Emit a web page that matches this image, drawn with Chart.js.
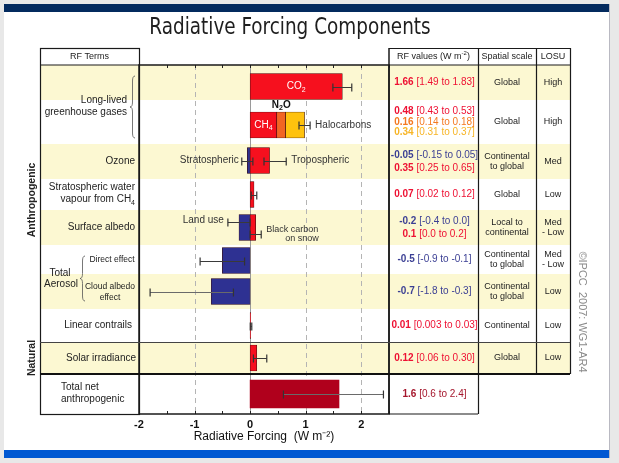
<!DOCTYPE html>
<html>
<head>
<meta charset="utf-8">
<script src="https://cdn.jsdelivr.net/npm/chart.js@4.4.1/dist/chart.umd.min.js"></script>
<style>
  html, body { margin: 0; padding: 0; background: #e8e8e8; }
  canvas { display: block; }
</style>
</head>
<body>
<canvas id="rf" width="619" height="463"></canvas>
<script>
// ---------- data ----------
const items   = ["CO2", "CH4", "N2O", "Halocarbons", "Stratospheric ozone", "Tropospheric ozone",
                 "Stratospheric water vapour", "Land use", "Black carbon on snow", "Direct effect",
                 "Cloud albedo effect", "Linear contrails", "Solar irradiance", "Total net anthropogenic"];
const itemRow = [0, 1, 1, 1, 2, 2, 3, 4, 4, 5, 6, 7, 8, 9];
const rfValue = [1.66, 0.48, 0.16, 0.34, -0.05, 0.35, 0.07, -0.2, 0.1, -0.5, -0.7, 0.01, 0.12, 1.6];
// whiskers as drawn on the bars (null = none)
const barLow  = [1.49, null, null, 0.88, -0.15, 0.25, 0.02, -0.4, 0.0, -0.9, -1.8, 0.003, 0.06, 0.6];
const barHigh = [1.83, null, null, 1.08, 0.05, 0.65, 0.12, 0.0, 0.2, -0.1, -0.3, 0.03, 0.30, 2.4];
// ranges printed in the table
const tblLow  = [1.49, 0.43, 0.14, 0.31, -0.15, 0.25, 0.02, -0.4, 0.0, -0.9, -1.8, 0.003, 0.06, 0.6];
const tblHigh = [1.83, 0.53, 0.18, 0.37, 0.05, 0.65, 0.12, 0.0, 0.2, -0.1, -0.3, 0.03, 0.30, 2.4];
const spatial = [["Global"], ["Global"], ["Continental", "to global"], ["Global"], ["Local to", "continental"],
                 ["Continental", "to global"], ["Continental", "to global"], ["Continental"], ["Global"], []];
const losu    = [["High"], ["High"], ["Med"], ["Low"], ["Med", "- Low"], ["Med", "- Low"], ["Low"], ["Low"], ["Low"], []];
const xTicks  = [-2, -1, 0, 1, 2];

// ---------- layout / style ----------
const rowH     = [35, 44, 35, 31, 35, 29, 35, 33, 32, 40];
const rowShift = [4, 3, -1, 0, 0, 1, 0, 0, 0, 0];
const errShift = [0, 0, 0, 0, 0, 0, 0, -6, 6, 0, 0, 0, 0, 0];
const COL = { red: "#f6101e", orange: "#f26522", gold: "#ffc20e", blue: "#2e3192", dark: "#b0001c" };
const TXT = { red: "#ee1133", orange: "#f47920", gold: "#f7b526", blue: "#3b3f94", dark: "#a5162c" };
const itemCol = ["red", "red", "orange", "gold", "blue", "red", "red", "blue", "red", "blue", "blue", "red", "red", "dark"];
const SANS = '"Liberation Sans", Arial, Helvetica, sans-serif';
const NARROW = '"Liberation Sans Narrow", "DejaVu Sans Condensed", "Liberation Sans", sans-serif';

const rowTop = [];
let acc = 0;
rowH.forEach(h => { rowTop.push(acc); acc += h; });
const totalH = acc;
const rowMid = r => rowTop[r] + rowH[r] / 2;
const barY = itemRow.map(r => rowMid(r) + rowShift[r]);

// stack positive and negative pieces of a row from zero
const barStart = [], barEnd = [];
const posAcc = {}, negAcc = {};
rfValue.forEach((v, i) => {
  const r = itemRow[i];
  const base = v >= 0 ? (posAcc[r] || 0) : (negAcc[r] || 0);
  barStart.push(base);
  barEnd.push(base + v);
  if (v >= 0) posAcc[r] = base + v; else negAcc[r] = base + v;
});

const last = items.length - 1;
const mainIdx = items.map((_, i) => i).filter(i => i !== last);

// ---------- text helpers ----------
function txt(ctx, s, x, y, font, color, align) {
  ctx.font = font;
  ctx.fillStyle = color;
  ctx.textAlign = align || "center";
  ctx.textBaseline = "middle";
  ctx.fillText(s, x, y);
}

// parts: [text, kind] with kind 0 normal, 1 subscript, -1 superscript
function rich(ctx, parts, x, y, size, weight, color, align) {
  const fN = `${weight} ${size}px ${SANS}`;
  const fS = `${weight} ${Math.round(size * 0.65)}px ${SANS}`;
  let w = 0;
  parts.forEach(p => { ctx.font = p[1] ? fS : fN; w += ctx.measureText(p[0]).width; });
  let cx = align === "left" ? x : align === "right" ? x - w : x - w / 2;
  ctx.fillStyle = color;
  ctx.textAlign = "left";
  ctx.textBaseline = "middle";
  parts.forEach(p => {
    ctx.font = p[1] ? fS : fN;
    const dy = p[1] === 1 ? size * 0.32 : p[1] === -1 ? -size * 0.38 : 0;
    ctx.fillText(p[0], cx, y + dy);
    cx += ctx.measureText(p[0]).width;
  });
}

const dec = n => (String(n).split(".")[1] || "").length;
const fmt = (n, i) => n.toFixed(Math.max(dec(n), dec(rfValue[i])));

function valueText(ctx, i, cx, y) {
  const a = String(rfValue[i]);
  const b = ` [${fmt(tblLow[i], i)} to ${fmt(tblHigh[i], i)}]`;
  const fB = `bold 10px ${SANS}`, fR = `10px ${SANS}`;
  ctx.font = fB; const wa = ctx.measureText(a).width;
  ctx.font = fR; const wb = ctx.measureText(b).width;
  const x0 = cx - (wa + wb) / 2;
  txt(ctx, a, x0, y, fB, TXT[itemCol[i]], "left");
  txt(ctx, b, x0 + wa, y, fR, TXT[itemCol[i]], "left");
}

function brace(ctx, x, y1, y2, w) {
  const m = (y1 + y2) / 2, h = w / 2;
  ctx.beginPath();
  ctx.moveTo(x + w, y1);
  ctx.quadraticCurveTo(x + h, y1, x + h, y1 + w);
  ctx.lineTo(x + h, m - w);
  ctx.quadraticCurveTo(x + h, m, x, m);
  ctx.quadraticCurveTo(x + h, m, x + h, m + w);
  ctx.lineTo(x + h, y2 - w);
  ctx.quadraticCurveTo(x + h, y2, x + w, y2);
  ctx.stroke();
}

function hline(ctx, x1, x2, y, w, c) {
  ctx.beginPath(); ctx.lineWidth = w; ctx.strokeStyle = c;
  ctx.moveTo(x1, y); ctx.lineTo(x2, y); ctx.stroke();
}
function vline(ctx, x, y1, y2, w, c) {
  ctx.beginPath(); ctx.lineWidth = w; ctx.strokeStyle = c;
  ctx.moveTo(x, y1); ctx.lineTo(x, y2); ctx.stroke();
}

// ---------- plugin: frame, bands, table, labels ----------
const figure = {
  id: "figure",
  beforeDraw(chart) {
    const c = chart.ctx, ys = chart.scales.y;
    c.save();
    c.fillStyle = "#e8e8e8"; c.fillRect(0, 0, 619, 463);
    c.fillStyle = "#ffffff"; c.fillRect(4, 4, 605, 454);
    vline(c, 609.5, 4, 458, 1, "#b9b9c2");
    c.fillStyle = "#032a5e"; c.fillRect(4, 4, 605, 8);
    c.fillStyle = "#0058d2"; c.fillRect(4, 450, 605, 8);
    // pale yellow bands
    c.fillStyle = "#fcf8d2";
    [0, 2, 4, 6, 8].forEach(r => {
      const y1 = ys.getPixelForValue(rowTop[r]), y2 = ys.getPixelForValue(rowTop[r] + rowH[r]);
      c.fillRect(40, y1, 530, y2 - y1);
    });
    c.restore();
  },
  beforeDatasetsDraw(chart) {
    const c = chart.ctx, xs = chart.scales.x, a = chart.chartArea;
    c.save();
    [-1, 1, 2].forEach(v => {
      c.setLineDash([5, 4]);
      vline(c, Math.round(xs.getPixelForValue(v)) + 0.5, a.top, a.bottom, 1, "#b4b4b4");
    });
    c.setLineDash([]);
    vline(c, Math.round(xs.getPixelForValue(0)) + 0.5, a.top, a.bottom, 1, "#9a9a9a");
    c.restore();
  },
  afterDatasetsDraw(chart) {
    const c = chart.ctx, xs = chart.scales.x, ys = chart.scales.y, a = chart.chartArea;
    const X = v => xs.getPixelForValue(v), Y = v => ys.getPixelForValue(v);
    c.save();

    // whiskers
    items.forEach((_, i) => {
      if (barLow[i] === null) return;
      const y = Math.round(Y(barY[i] + errShift[i])) + 0.5;
      const col = (i === last || i === 10) ? "#6a6a6a" : "#3a3a3a";
      hline(c, X(barLow[i]), X(barHigh[i]), y, 1, col);
      vline(c, X(barLow[i]), y - 4, y + 4, 1.2, "#333");
      vline(c, X(barHigh[i]), y - 4, y + 4, 1.2, "#333");
    });

    // labels on / next to the bars
    rich(c, [["CO", 0], ["2", 1]], X((barStart[0] + barEnd[0]) / 2), Y(barY[0]), 10, "normal", "#fff");
    rich(c, [["CH", 0], ["4", 1]], X((barStart[1] + barEnd[1]) / 2), Y(barY[1]), 10, "normal", "#fff");
    rich(c, [["N", 0], ["2", 1], ["O", 0]], X((barStart[2] + barEnd[2]) / 2), Y(barY[2]) - 20, 10, "bold", "#111");
    txt(c, "Halocarbons", X(barHigh[3]) + 5, Y(barY[3]), `10px ${SANS}`, "#333", "left");
    txt(c, "Stratospheric", X(barLow[4]) - 3, Y(barY[4]), `10px ${SANS}`, "#333", "right");
    txt(c, "Tropospheric", X(barHigh[5]) + 5, Y(barY[5]), `10px ${SANS}`, "#333", "left");
    txt(c, "Land use", X(barLow[7]) - 4, Y(barY[7] + errShift[7]) - 1, `10px ${SANS}`, "#333", "right");
    txt(c, "Black carbon", X(barHigh[8]) + 5, Y(barY[8] + errShift[8]) - 4, `9px ${SANS}`, "#333", "left");
    txt(c, "on snow", X(barHigh[8]) + 24, Y(barY[8] + errShift[8]) + 5, `9px ${SANS}`, "#333", "left");

    // ticks every 0.5 inside the frame
    for (let v = -1.5; v <= 2.5; v += 0.5) {
      const x = Math.round(X(v)) + 0.5;
      vline(c, x, a.top, a.top + 3, 1, "#222");
      vline(c, x, a.bottom - 3, a.bottom, 1, "#222");
    }

    // title (slightly condensed)
    c.save(); c.translate(290, 28); c.scale(0.89, 1);
    txt(c, "Radiative Forcing Components", 0, 0, `23px ${NARROW}`, "#1e1e1e", "center");
    c.restore();

    // table frame
    const yH = 48, y0 = a.top, yNat = Y(rowTop[8]), yTot = Y(rowTop[9]), yEnd = a.bottom;
    const xT1 = 40, xT2 = a.left, xR = a.right, xS = 478, xL = 536, xE = 570;
    c.strokeStyle = "#1a1a1a";
    c.lineWidth = 1.2;
    c.strokeRect(xT1 + 0.5, yH + 0.5, xT2 - xT1, yEnd - yH);
    hline(c, xT1, xT2, y0, 1.2, "#1a1a1a");
    c.lineWidth = 1.5;
    c.strokeRect(xT2, y0, xR - xT2, yEnd - y0);
    hline(c, xR, xE, yH + 0.5, 1.2, "#1a1a1a");
    hline(c, xR, xE, y0, 1.2, "#1a1a1a");
    vline(c, xR, yH, yEnd, 1.5, "#1a1a1a");
    vline(c, xS + 0.5, yH, yEnd, 1.2, "#1a1a1a");
    vline(c, xL + 0.5, yH, yTot, 1.2, "#1a1a1a");
    vline(c, xE + 0.5, yH, yTot, 1.2, "#1a1a1a");
    hline(c, xR, xS, yEnd, 1.2, "#1a1a1a");
    hline(c, xT1, xE, Math.round(yNat) + 0.5, 1, "#444");
    hline(c, xT1, xE, yTot, 2.2, "#111");

    // headers
    txt(c, "RF Terms", (xT1 + xT2) / 2, 57, `9px ${SANS}`, "#222");
    rich(c, [["RF values (W m", 0], ["-2", -1], [")", 0]], (xR + xS) / 2, 57, 9, "normal", "#222");
    txt(c, "Spatial scale", (xS + xL) / 2, 57, `9px ${SANS}`, "#222");
    txt(c, "LOSU", (xL + xE) / 2, 57, `9px ${SANS}`, "#222");

    // left column terms
    const F = `10px ${SANS}`, Fs = `8.5px ${SANS}`, dk = "#222";
    const m = r => Y(rowMid(r));
    txt(c, "Long-lived", 127, 100, F, dk, "right");
    txt(c, "greenhouse gases", 127, 112, F, dk, "right");
    c.lineWidth = 0.8; c.strokeStyle = "#555";
    brace(c, 130, Y(rowTop[0]) + 11, Y(rowTop[2]) - 6, 5);
    txt(c, "Ozone", 135, m(2), F, dk, "right");
    txt(c, "Stratospheric water", 135, m(3) - 7, F, dk, "right");
    rich(c, [["vapour from CH", 0], ["4", 1]], 135, m(3) + 5, 10, "normal", dk, "right");
    txt(c, "Surface albedo", 135, m(4), F, dk, "right");
    txt(c, "Total", 60, 273, F, dk);
    txt(c, "Aerosol", 61, 284, F, dk);
    c.lineWidth = 0.8; c.strokeStyle = "#555";
    brace(c, 80, Y(rowTop[5]) + 11, Y(rowTop[7]) - 8, 5);
    txt(c, "Direct effect", 112, m(5), Fs, dk);
    txt(c, "Cloud albedo", 110, m(6) - 5, Fs, dk);
    txt(c, "effect", 110, m(6) + 6, Fs, dk);
    txt(c, "Linear contrails", 132, m(7), F, dk, "right");
    txt(c, "Solar irradiance", 136, m(8), F, dk, "right");
    txt(c, "Total net", 61, m(9) - 7, F, dk, "left");
    txt(c, "anthropogenic", 61, m(9) + 5, F, dk, "left");

    // rotated group labels
    c.save(); c.translate(32, 200); c.rotate(-Math.PI / 2);
    txt(c, "Anthropogenic", 0, 0, `bold 10.5px ${SANS}`, "#222"); c.restore();
    c.save(); c.translate(32, m(8)); c.rotate(-Math.PI / 2);
    txt(c, "Natural", 0, 0, `bold 10.5px ${SANS}`, "#222"); c.restore();
    c.save(); c.translate(582, 312); c.rotate(Math.PI / 2);
    txt(c, "\u00A9IPCC  2007: WG1-AR4", 0, 0, `11px ${SANS}`, "#8a8a8a"); c.restore();

    // RF value column
    for (let r = 0; r < rowH.length; r++) {
      const idx = items.map((_, i) => i).filter(i => itemRow[i] === r);
      const gap = idx.length === 3 ? 10.5 : 12.5;
      idx.forEach((i, k) => valueText(c, i, (xR + xS) / 2 + 1, m(r) + (k - (idx.length - 1) / 2) * gap));
      spatial[r].forEach((s, k) => txt(c, s, (xS + xL) / 2, m(r) + (k - (spatial[r].length - 1) / 2) * 10.5, `9px ${SANS}`, dk));
      losu[r].forEach((s, k) => txt(c, s, (xL + xE) / 2, m(r) + (k - (losu[r].length - 1) / 2) * 10.5, `9px ${SANS}`, dk));
    }
    c.restore();
  }
};

// ---------- chart ----------
const ctx = document.getElementById("rf").getContext("2d");
new Chart(ctx, {
  type: "bar",
  data: {
    datasets: [
      {
        data: mainIdx.map(i => ({ x: [barStart[i], barEnd[i]], y: barY[i] })),
        backgroundColor: mainIdx.map(i => COL[itemCol[i]]),
        borderColor: "#3a1010",
        borderWidth: 0.6,
        borderSkipped: false,
        barThickness: 26
      },
      {
        data: [{ x: [barStart[last], barEnd[last]], y: barY[last] }],
        backgroundColor: COL[itemCol[last]],
        borderWidth: 0,
        barThickness: 28
      }
    ]
  },
  options: {
    responsive: false,
    animation: false,
    indexAxis: "y",
    datasets: { bar: { grouped: false } },
    layout: { padding: { left: 139, right: 230, top: 65, bottom: 0 } },
    plugins: { legend: { display: false }, tooltip: { enabled: false } },
    scales: {
      x: {
        type: "linear",
        min: -2,
        max: 2.5,
        afterBuildTicks: s => { s.ticks = xTicks.map(v => ({ value: v })); },
        afterFit: s => { s.height = 49; },
        grid: { display: false, drawTicks: false },
        border: { display: false },
        ticks: { padding: 4, color: "#111", font: { family: SANS, size: 11, weight: "bold" }, maxRotation: 0 },
        title: {
          display: true,
          text: "Radiative Forcing  (W m\u207B\u00B2)",
          color: "#111",
          font: { family: SANS, size: 12 },
          padding: { top: 0, bottom: 19 }
        }
      },
      y: { type: "linear", min: 0, max: totalH, reverse: true, offset: false, display: false }
    }
  },
  plugins: [figure]
});
</script>
</body>
</html>
